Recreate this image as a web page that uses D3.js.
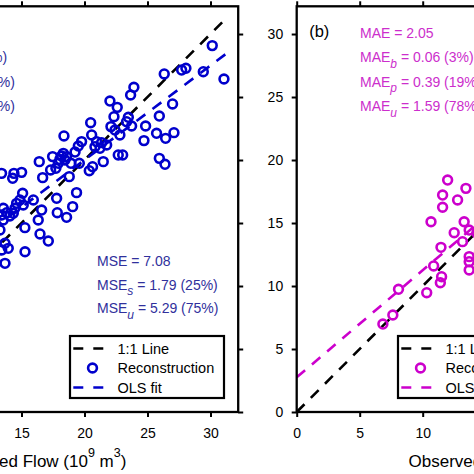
<!DOCTYPE html>
<html>
<head>
<meta charset="utf-8">
<script src="https://cdn.jsdelivr.net/npm/d3@7"></script>
<style>
  body { margin: 0; background: #fff; overflow: hidden; }
</style>
</head>
<body>
<div id="canvas"></div>
<script>
"use strict";

/* Configuration variables: drawing */
let svgWidth = 474;
let svgHeight = 474;
let fontFamily = "'Liberation Sans', Arial, Helvetica, sans-serif";

/* Panel (a): observed vs reconstructed flow (10^9 m^3) */
let obsA = [30.14, 31.07, 29.43, 27.71, 28.05, 26.33, 23.92, 23.66, 22.02, 26.99,
  25.94, 22.60, 22.34, 23.48, 23.34, 23.74, 24.85, 20.49, 22.10, 22.42,
  22.81, 25.72, 26.44, 27.10, 24.72, 18.37, 20.57, 19.77, 19.51, 20.96,
  21.36, 21.76, 21.23, 20.83, 22.68, 23.03, 25.94, 26.39, 18.32, 18.58,
  18.05, 18.45, 17.92, 18.18, 17.47, 16.41, 19.59, 21.49, 20.38, 20.64,
  18.92, 17.31, 17.73, 16.68, 18.79, 15.01, 14.40, 14.30, 13.42, 19.37,
  17.79, 15.09, 14.88, 14.61, 14.48, 15.14, 15.94, 16.60, 17.84, 19.06,
  18.58, 13.82, 14.35, 14.08, 13.42, 13.55, 16.33, 15.27, 16.47, 17.13,
  13.29, 13.69, 13.95, 13.43, 13.69, 15.28, 19.25, 13.56];
let recA = [29.08, 26.43, 27.01, 27.14, 27.28, 26.83, 25.77, 25.16, 24.68, 24.45,
  23.49, 24.18, 23.44, 23.39, 23.04, 22.70, 22.70, 22.96, 22.65, 22.38,
  21.99, 22.12, 21.72, 22.17, 21.54, 21.91, 21.99, 21.46, 21.11, 21.46,
  21.38, 21.19, 20.93, 21.06, 20.40, 20.40, 20.13, 19.66, 20.53, 20.27,
  20.05, 20.00, 19.74, 20.32, 20.27, 19.87, 19.74, 19.87, 19.15, 19.47,
  19.74, 19.21, 19.34, 18.60, 18.68, 19.02, 18.94, 18.55, 18.94, 17.41,
  16.96, 17.36, 16.83, 16.56, 16.17, 16.43, 16.83, 16.03, 15.82, 16.30,
  15.45, 15.82, 15.77, 15.56, 15.64, 15.24, 15.24, 14.63, 14.13, 13.57,
  14.45, 13.39, 12.99, 12.86, 11.80, 12.72, 20.63, 16.17];

/* Panel (b): observed vs reconstructed flow (10^9 m^3) */
let obsB = [11.98, 13.43, 11.58, 12.77, 11.58, 10.66, 13.29, 12.50, 13.69, 13.16,
  11.45, 13.69, 13.69, 13.69, 10.87, 11.50, 11.40, 10.32, 8.08, 7.63,
  6.84, 14.30, 14.50];
let recB = [18.41, 17.75, 17.22, 16.83, 16.25, 15.10, 15.10, 14.23, 14.44, 13.52,
  13.07, 12.33, 11.93, 11.27, 11.59, 10.74, 10.26, 9.47, 9.74, 7.70,
  6.98, 14.20, 12.60];

/* Axis ticks and limits (same for both panels and both axes) */
let axisTicks = [0, 5, 10, 15, 20, 25, 30];
let axisMax = 32.2;

/* OLS fits (intercept, slope) and the extent of the reference lines */
let olsA = [5.0, 0.75];
let olsB = [2.75, 0.85];
let lineEnd = 31.3;

/* Statistics text: [name, subscript, rest] */
let maeA = [["MAE", "", " = 2.13"], ["MAE", "b", " = 0.04 (2%)"],
  ["MAE", "p", " = 0.42 (19%)"], ["MAE", "u", " = 1.67 (79%)"]];
let mseA = [["MSE", "", " = 7.08"], ["MSE", "s", " = 1.79 (25%)"],
  ["MSE", "u", " = 5.29 (75%)"]];
let maeB = [["MAE", "", " = 2.05"], ["MAE", "b", " = 0.06 (3%)"],
  ["MAE", "p", " = 0.39 (19%)"], ["MAE", "u", " = 1.59 (78%)"]];
let legendLabels = ["1:1 Line", "Reconstruction", "OLS fit"];

/* Layout */
let plotTop = 6.3;
let plotBottom = 412;
let plotSize = 405.7;
let tickLen = 5;
let markR = 4.4;    // circle radius
let markW = 2.6;    // circle / line stroke width

let svg = d3.select("#canvas")
  .append("svg")
  .attr("width", svgWidth)
  .attr("height", svgHeight)
  .style("font-family", fontFamily);

svg.append("rect")
  .attr("width", svgWidth)
  .attr("height", svgHeight)
  .attr("fill", "white");

function statText(g, x, y, parts, color) {
  let t = g.append("text")
    .attr("x", x)
    .attr("y", y)
    .attr("fill", color)
    .attr("font-size", 14);
  t.append("tspan").text(parts[0]);
  if (parts[1]) {
    t.append("tspan")
      .attr("dy", 5.5)
      .attr("font-size", 12)
      .attr("font-style", "italic")
      .text(parts[1]);
  }
  t.append("tspan")
    .attr("dy", parts[1] ? -5.5 : 0)
    .text(parts[2]);
}

function drawPanel(p) {
  let g = svg.append("g");

  let x = d3.scaleLinear()
    .domain([0, axisMax])
    .range([p.left, p.left + plotSize]);
  let y = d3.scaleLinear()
    .domain([0, axisMax])
    .range([plotBottom, plotTop]);

  // 1:1 line
  g.append("line")
    .attr("x1", x(0)).attr("y1", y(0))
    .attr("x2", x(lineEnd)).attr("y2", y(lineEnd))
    .attr("stroke", "black")
    .attr("stroke-width", markW)
    .attr("stroke-dasharray", "11,9");

  // reconstruction points
  g.selectAll("circle.pt")
    .data(d3.zip(p.obs, p.rec))
    .join("circle")
    .attr("class", "pt")
    .attr("cx", d => x(d[0]))
    .attr("cy", d => y(d[1]))
    .attr("r", markR)
    .attr("fill", "none")
    .attr("stroke", p.color)
    .attr("stroke-width", markW);

  // OLS fit
  g.append("line")
    .attr("x1", x(0)).attr("y1", y(p.ols[0]))
    .attr("x2", x(lineEnd)).attr("y2", y(p.ols[0] + p.ols[1] * lineEnd))
    .attr("stroke", p.color)
    .attr("stroke-width", markW)
    .attr("stroke-dasharray", "11,9");

  // axes: labels on bottom and left only, ticks outward on all four sides
  let axes = [
    [d3.axisBottom(x), 0, plotBottom, true, 11.5],
    [d3.axisTop(x), 0, plotTop, false, 3],
    [d3.axisLeft(y), p.left, 0, true, 8.5],
    [d3.axisRight(y), p.left + plotSize, 0, false, 3]
  ];
  axes.forEach(a => {
    let ax = a[0].tickValues(axisTicks)
      .tickSizeInner(tickLen)
      .tickSizeOuter(0)
      .tickPadding(a[4]);
    if (!a[3]) ax.tickFormat("");
    let sel = g.append("g")
      .attr("transform", `translate(${a[1]},${a[2]})`)
      .call(ax)
      .attr("font-size", 14)
      .attr("font-family", fontFamily);
    sel.select(".domain").remove();
    sel.selectAll(".tick line").attr("stroke", "black").attr("stroke-width", 2);
    sel.selectAll(".tick text").attr("fill", "black");
    // labels that fall wholly left of the cropped view are not drawn
    sel.selectAll(".tick text").filter(function () {
      let b = this.getBoundingClientRect();
      return b.right < 0;
    }).remove();
  });

  // box
  g.append("rect")
    .attr("x", p.left)
    .attr("y", plotTop)
    .attr("width", plotSize)
    .attr("height", plotBottom - plotTop)
    .attr("fill", "none")
    .attr("stroke", "black")
    .attr("stroke-width", 2.3);

  // panel letter
  if (p.left > 0) {
    g.append("text")
      .attr("x", p.left + 12.5)
      .attr("y", 37)
      .attr("font-size", 16.5)
      .attr("fill", "black")
      .text(p.letter);
  }

  // statistics
  p.mae.forEach((s, i) => statText(g, p.textX, 37.7 + i * 24.5, s, p.textColor));
  if (p.mse) {
    p.mse.forEach((s, i) => statText(g, p.mseX, 266 + i * 23.7, s, p.textColor));
  }

  // legend
  let lg = g.append("g").attr("transform", `translate(${p.legendX},336)`);
  lg.append("rect")
    .attr("width", 154)
    .attr("height", 62)
    .attr("fill", "white")
    .attr("stroke", "black")
    .attr("stroke-width", 2.2);
  let rowY = [12.5, 32, 51.5];
  lg.append("line")
    .attr("x1", 3.3).attr("x2", 33.3).attr("y1", rowY[0]).attr("y2", rowY[0])
    .attr("stroke", "black").attr("stroke-width", markW).attr("stroke-dasharray", "10,10");
  lg.append("circle")
    .attr("cx", 22.5).attr("cy", rowY[1]).attr("r", markR)
    .attr("fill", "none").attr("stroke", p.color).attr("stroke-width", markW);
  lg.append("line")
    .attr("x1", 3.3).attr("x2", 33.3).attr("y1", rowY[2]).attr("y2", rowY[2])
    .attr("stroke", p.color).attr("stroke-width", markW).attr("stroke-dasharray", "10,10");
  lg.selectAll("text.lab")
    .data(legendLabels)
    .join("text")
    .attr("class", "lab")
    .attr("x", 47.5)
    .attr("y", (d, i) => rowY[i] + 5.3)
    .attr("font-size", 14.5)
    .attr("fill", "black")
    .text(d => d);

  // x axis title
  let xt = g.append("text")
    .attr("x", p.left + plotSize / 2)
    .attr("y", 466.5)
    .attr("text-anchor", "middle")
    .attr("font-size", 17)
    .attr("fill", "black");
  xt.append("tspan").text("Observed Flow (10");
  xt.append("tspan").attr("dy", -10).attr("font-size", 12.5).text("9");
  xt.append("tspan").attr("dy", 10).text(" m");
  xt.append("tspan").attr("dy", -10).attr("font-size", 12.5).text("3");
  xt.append("tspan").attr("dy", 10).text(")");
}

drawPanel({
  left: -167.5, obs: obsA, rec: recA, ols: olsA,
  color: "#0000cc", textColor: "#30309c", letter: "(a)",
  textX: -106.5, mae: maeA, mseX: 97, mse: mseA, legendX: 70
});

drawPanel({
  left: 296.7, obs: obsB, rec: recB, ols: olsB,
  color: "#cc00cc", textColor: "#cc2ecc", letter: "(b)",
  textX: 360, mae: maeB, mse: null, legendX: 398
});
</script>
</body>
</html>
